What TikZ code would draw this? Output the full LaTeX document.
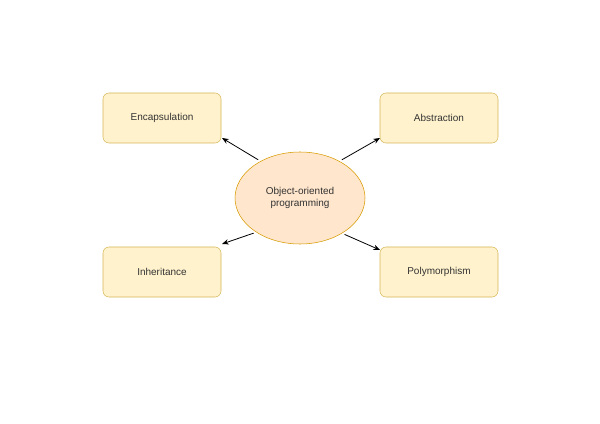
\documentclass[tikz,border=0pt]{standalone}
\usepackage{fontspec}
\setmainfont{Liberation Sans}
\usetikzlibrary{shapes.geometric,arrows.meta}
\definecolor{bfill}{HTML}{FFF2CC}\definecolor{bdraw}{HTML}{D6B656}
\definecolor{efill}{HTML}{FFE6CC}\definecolor{edraw}{HTML}{D79B00}
\begin{document}
\begin{tikzpicture}[x=0.75pt,y=-0.75pt,
 box/.style={draw=bdraw,fill=bfill,rounded corners=4.5pt,minimum width=88.5pt,minimum height=37.5pt,font=\fontsize{7.5pt}{9pt}\selectfont,text=black!80},
 arr/.style={-{Stealth[length=5pt,width=4pt]},semithick,shorten <=2pt}]
\useasboundingbox (0,0) rectangle (600,424);
\node[ellipse,draw=edraw,fill=efill,minimum width=97.5pt,minimum height=69pt,align=center,font=\fontsize{7.5pt}{9pt}\selectfont,text=black!80] (o) at (300,198) {Object-oriented\\programming};
\node[box] (e) at (162,118) {Encapsulation};
\node[box] (a) at (439,118) {Abstraction};
\node[box] (i) at (162,272) {Inheritance};
\node[box] (p) at (439,272) {Polymorphism};
\coordinate (te) at (222,138);
\coordinate (ta) at (380,138);
\coordinate (ti) at (222,244);
\coordinate (tp) at (380,250);
\draw[arr] (o.137) -- (te);
\draw[arr] (o.43) -- (ta);
\draw[arr] (o.218) -- (ti);
\draw[arr] (o.320) -- (tp);
\end{tikzpicture}
\end{document}
